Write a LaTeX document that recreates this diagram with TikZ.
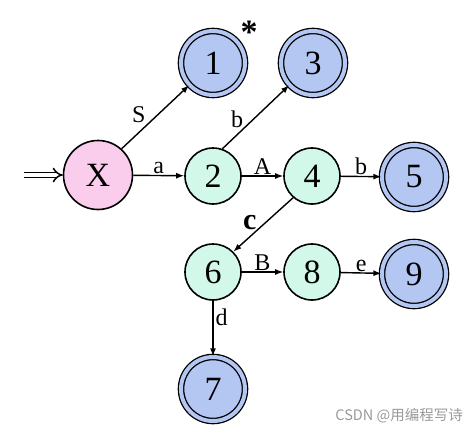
\documentclass[tikz,border=0pt]{standalone}
\usepackage{fontspec}
\setmainfont{Liberation Serif}
\newfontfamily\cjk{Noto Sans CJK SC}
\usetikzlibrary{arrows.meta}
\definecolor{pinkfill}{HTML}{F9CDEB}
\definecolor{greenfill}{HTML}{D2F8E9}
\definecolor{bluefill}{HTML}{B4C6F2}
\tikzset{
  st/.style={circle, draw=black, line width=1.6pt, inner sep=0pt, minimum size=56pt,
    font=\fontsize{34}{34}\selectfont},
  startst/.style={st, fill=pinkfill, minimum size=69pt},
  midst/.style={st, fill=greenfill},
  accst/.style={st, fill=bluefill, double=bluefill, double distance=4pt, line width=1.3pt, minimum size=64pt},
  tr/.style={-{Latex[length=8pt,width=6pt]}, line width=1.4pt},
  lab/.style={font=\fontsize{24}{24}\selectfont, inner sep=2pt},
}
\begin{document}
\begin{tikzpicture}[x=1pt,y=-1pt]
\useasboundingbox (0,0) rectangle (474,431);
\node[startst] (X) at (98,175) {X};
\node[midst] (n2) at (213,176) {2};
\node[midst] (n4) at (312,176) {4};
\node[midst] (n6) at (213,272) {6};
\node[midst] (n8) at (312,272) {8};
\node[accst] (n1) at (213,63) {1};
\node[accst] (n3) at (313,63) {3};
\node[accst] (n5) at (414,177) {5};
\node[accst] (n9) at (414,274) {9};
\node[accst] (n7) at (213,389) {7};
\node[font=\bfseries\fontsize{34}{34}\selectfont, inner sep=0pt] (star) at (249,32) {*};
\coordinate (s0) at (24,175);
\draw[-{Implies}, double, double distance=3.5pt, line width=1.5pt] (s0) -- (X);
\draw[tr] (X.48) -- node[lab, pos=0.38, above left=-1pt] {S} (n1.223);
\draw[tr] (X) -- node[lab, above=-1pt] {a} (n2);
\draw[tr] (n2.71) -- node[lab, pos=0.32, above left=-2pt] {b} (n3.223);
\draw[tr] (n2) -- node[lab, above=-1pt] {A} (n4);
\draw[tr] (n4) -- node[lab, above=-1pt] {b} (n5);
\draw[tr] (n4.229) -- node[lab, pos=0.6, above left=-2pt, font=\bfseries\fontsize{30}{30}\selectfont] {c} (n6.45);
\draw[tr] (n6) -- node[lab, above=-1pt] {B} (n8);
\draw[tr] (n8) -- node[lab, above=-1pt] {e} (n9);
\draw[tr] (n6) -- node[lab, pos=0.3, right] {d} (n7);
\node[text=black!40, font=\cjk\fontsize{14.5}{14.5}\selectfont, anchor=east, inner sep=0pt] (wm) at (463,416) {CSDN @用编程写诗};
\end{tikzpicture}
\end{document}
